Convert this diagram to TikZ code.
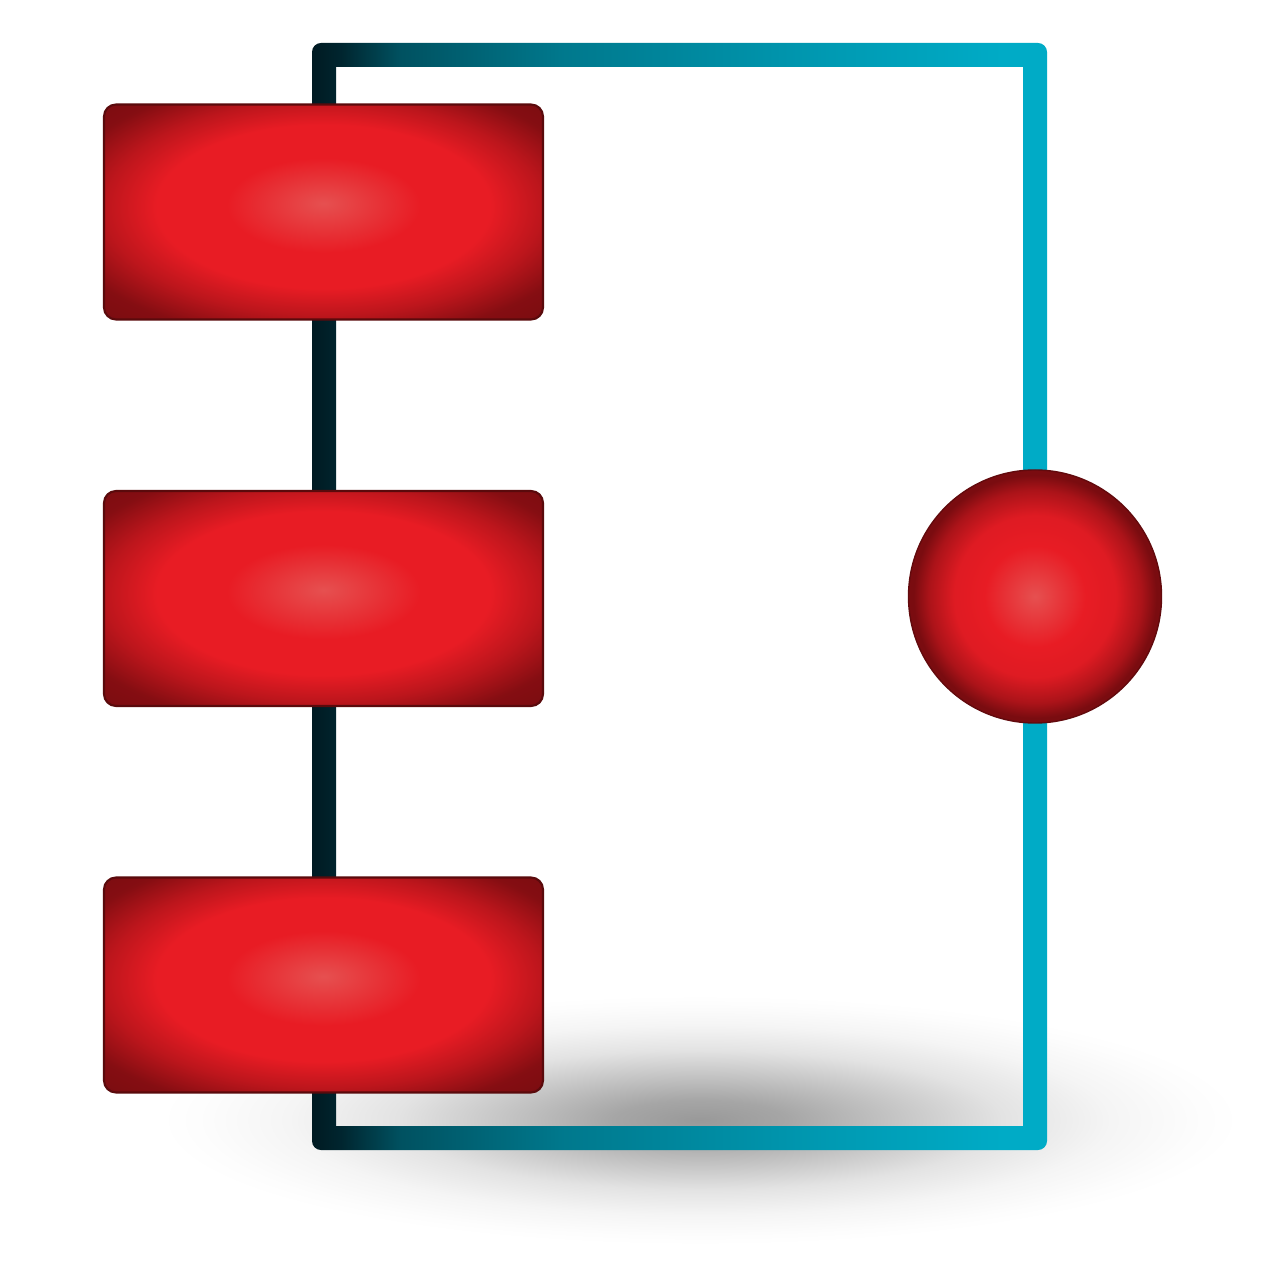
\documentclass[tikz,border=0pt]{standalone}
\usetikzlibrary{shadings}
\definecolor{fdark}{HTML}{001A22}
\definecolor{fcyan}{HTML}{00ABC6}
\definecolor{bdark}{HTML}{7A0C10}
\definecolor{bred}{HTML}{E81C24}
\definecolor{blight}{HTML}{E65050}
\definecolor{bedge}{HTML}{5A0A0C}
\pgfdeclarehorizontalshading{frameshade}{100bp}{color(0bp)=(fdark); color(25bp)=(fdark); color(27bp)=(fdark!92!fcyan); color(31bp)=(fdark!62!fcyan); color(42bp)=(fdark!35!fcyan); color(60bp)=(fdark!12!fcyan); color(72bp)=(fcyan); color(100bp)=(fcyan)}
\pgfdeclareradialshading{boxshade}{\pgfpoint{0bp}{2bp}}{color(0bp)=(blight); color(11bp)=(bred); color(19bp)=(bred); color(25bp)=(bred!60!bdark); color(31bp)=(bdark!90!bred); color(36bp)=(bdark); color(50bp)=(bdark)}
\pgfdeclareradialshading{ballshade}{\pgfpoint{0bp}{0bp}}{color(0bp)=(blight); color(10bp)=(bred); color(16bp)=(bred!96!black); color(21bp)=(bred!45!bdark); color(24bp)=(bdark); color(50bp)=(bdark)}
\pgfdeclareradialshading{shadowshade}{\pgfpoint{0bp}{0bp}}{color(0bp)=(black!40); color(4bp)=(black!35); color(9bp)=(black!23); color(14bp)=(black!11); color(19bp)=(black!4); color(23bp)=(black!1); color(25bp)=(white); color(50bp)=(white)}
\tikzset{
  stagebox/.style={shading=boxshade, draw=bedge, line width=0.6pt, rounded corners=0.12cm,
    minimum width=4.39cm, minimum height=2.15cm, inner sep=0pt},
  ballnode/.style={circle, shading=ballshade, draw=bdark!80!black, line width=0.4pt,
    minimum size=2.53cm, inner sep=0pt},
}
\begin{document}
\begin{tikzpicture}
\useasboundingbox (0,0) rectangle (12.8,-12.8);
\fill[white] (0,0) rectangle (12.8,-12.8);
% shadow
\shade[shading=shadowshade] (7.0,-11.2) ellipse [x radius=5.4cm, y radius=1.25cm];
% frame corners
\coordinate (fo1) at (3.12,-0.43);
\coordinate (fo2) at (10.47,-11.50);
\coordinate (fi1) at (3.36,-0.67);
\coordinate (fi2) at (10.23,-11.26);
\shade[shading=frameshade, even odd rule]
  [rounded corners=0.09cm] (fo1) rectangle (fo2)
  [sharp corners] (fi1) rectangle (fi2);
% boxes
\node[stagebox] (b1) at (3.235,-2.12) {};
\node[stagebox] (b2) at (3.235,-5.985) {};
\node[stagebox] (b3) at (3.235,-9.85) {};
% ball
\node[ballnode] (c) at (10.35,-5.965) {};
\end{tikzpicture}
\end{document}
